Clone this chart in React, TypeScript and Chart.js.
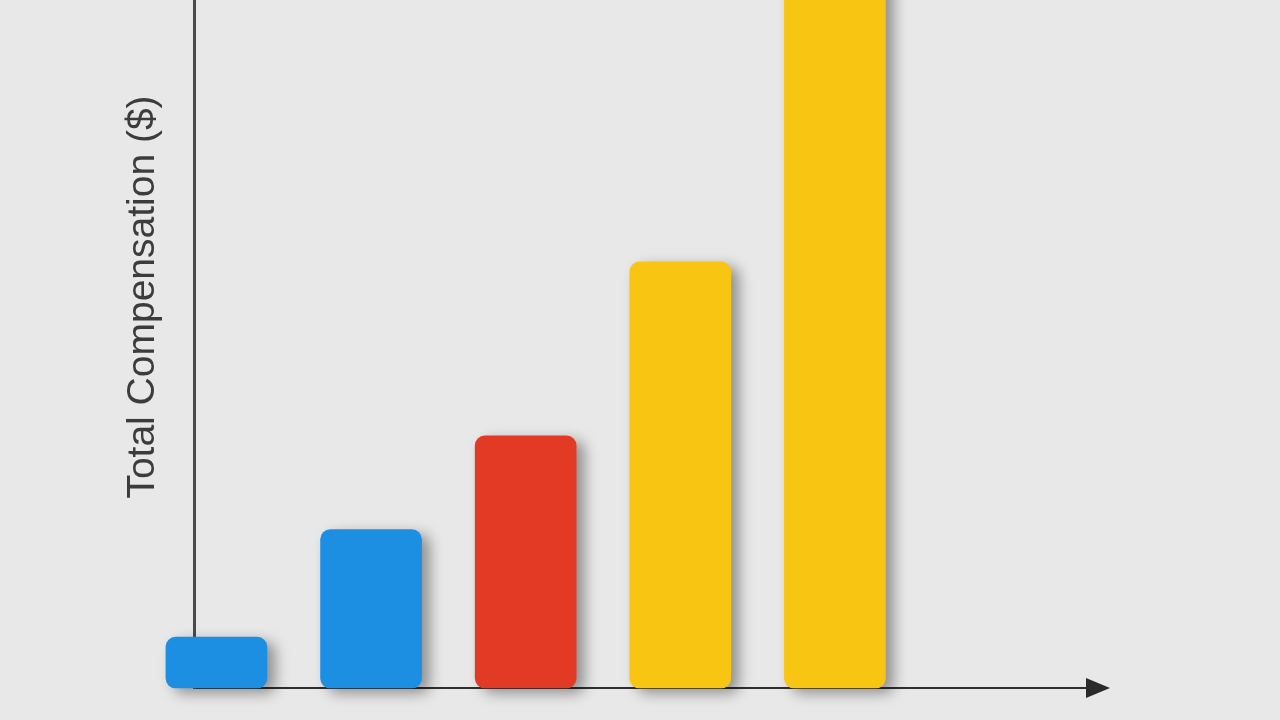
import React, { useEffect, useRef } from "react";
import { Chart, registerables } from "chart.js";

Chart.register(...registerables);

// ---- data ----
const categories = ["Level 1", "Level 2", "Level 3", "Level 4", "Level 5"];
const positions = [0, 1, 2, 3, 4];
const compensation = [13000, 40500, 64500, 109000, 190000];
const barColors = ["#1c8fe2", "#1c8fe2", "#e23a25", "#f9c513", "#f9c513"];
const yAxisTitle = "Total Compensation ($)";
const Y_MAX = 200000;
const X_MIN = -0.14;
const X_MAX = 5.65;

const shadowPlugin = {
  id: "barShadow",
  beforeDatasetsDraw(chart: any) {
    const ctx = chart.ctx;
    ctx.save();
    ctx.shadowColor = "rgba(0,0,0,0.38)";
    ctx.shadowBlur = 14;
    ctx.shadowOffsetX = 8;
    ctx.shadowOffsetY = 5;
  },
  afterDatasetsDraw(chart: any) {
    chart.ctx.restore();
  },
};

const arrowPlugin = {
  id: "xArrow",
  afterDraw(chart: any) {
    const { ctx, chartArea } = chart;
    const y = chartArea.bottom;
    const x = chartArea.right;
    ctx.save();
    ctx.fillStyle = "#2a2a2a";
    ctx.beginPath();
    ctx.moveTo(x - 4, y - 10);
    ctx.lineTo(x + 20, y);
    ctx.lineTo(x - 4, y + 10);
    ctx.closePath();
    ctx.fill();
    ctx.restore();
  },
};

export default function App() {
  const canvasRef = useRef<HTMLCanvasElement | null>(null);

  useEffect(() => {
    document.body.style.margin = "0";
    document.body.style.background = "#e8e8e8";
    const canvas = canvasRef.current;
    if (!canvas) return;
    const chart = new Chart(canvas, {
      type: "bar",
      data: {
        labels: categories,
        datasets: [
          {
            label: yAxisTitle,
            data: positions.map((p, i) => ({ x: p, y: compensation[i] })),
            backgroundColor: barColors,
            borderRadius: 10,
            borderSkipped: false,
            barThickness: 101,
            clip: false as any,
          },
        ],
      },
      options: {
        animation: false,
        responsive: false,
        devicePixelRatio: 1,
        layout: { padding: { left: 120, right: 190, top: 0, bottom: 24 } },
        plugins: {
          legend: { display: false },
          tooltip: { enabled: false },
        },
        scales: {
          x: {
            type: "linear",
            offset: false,
            min: X_MIN,
            max: X_MAX,
            grid: { display: false },
            ticks: { display: false },
            border: { display: true, color: "#2e2e2e", width: 2 },
          },
          y: {
            min: 0,
            max: Y_MAX,
            grid: { display: false },
            ticks: { display: false },
            border: { display: true, color: "#4a4a4a", width: 3 },
            title: {
              display: true,
              text: yAxisTitle,
              color: "#3c3c3c",
              font: { family: "'Liberation Sans', Arial, sans-serif", size: 39, weight: "normal" },
              padding: { top: 0, bottom: 20 },
            },
          },
        },
      },
      plugins: [shadowPlugin, arrowPlugin],
    });
    return () => chart.destroy();
  }, []);

  return (
    <div
      style={{
        position: "fixed",
        left: 0,
        top: -94,
        width: 1280,
        height: 814,
        background: "#e8e8e8",
      }}
    >
      <canvas ref={canvasRef} width={1280} height={814} style={{ display: "block" }} />
    </div>
  );
}
